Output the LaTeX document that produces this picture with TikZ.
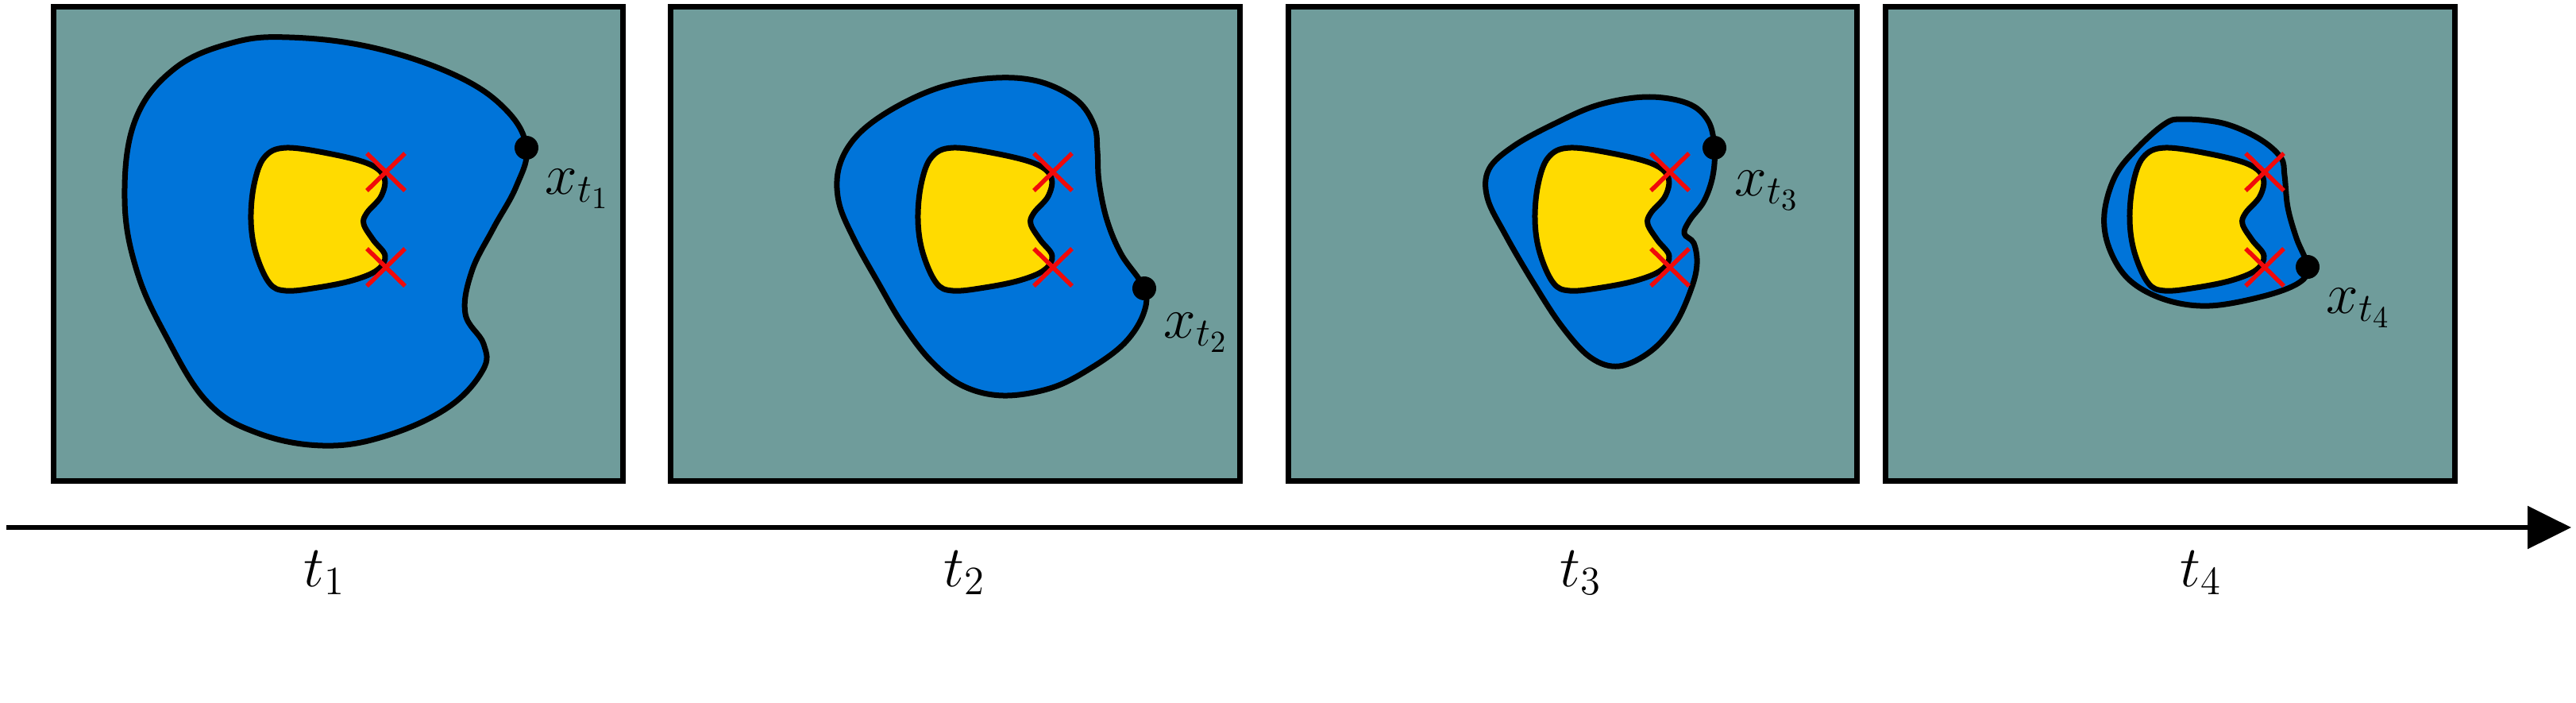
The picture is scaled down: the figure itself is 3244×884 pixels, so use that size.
\documentclass[tikz,border=0pt]{standalone}
\usetikzlibrary{arrows.meta}
\definecolor{bg}{RGB}{111,156,155}
\definecolor{blob}{RGB}{0,116,217}
\definecolor{core}{RGB}{255,219,0}
\definecolor{cross}{RGB}{240,10,10}
\tikzset{
  panel/.style={draw=black, line width=0.7mm, fill=bg},
  outer/.style={draw=black, line width=0.7mm, fill=blob, line join=round},
  inner/.style={draw=black, line width=0.7mm, fill=core, line join=round},
  crossline/.style={draw=cross, line width=0.55mm},
  ptdot/.style={circle, fill=black, inner sep=0pt, minimum size=3mm},
  lbl/.style={font=\fontsize{22}{26}\selectfont, inner sep=0pt},
  timeaxis/.style={line width=0.6mm, -{Triangle[length=5.5mm,width=5.3mm]}},
}
\newcommand{\coreshape}{%
  \draw[inner] plot[smooth cycle, tension=0.6] coordinates {(360,186) (418,194) (466,207) (484,224) (480,247) (462,268) (458,282) (470,302) (485,322) (475,340) (444,353) (400,362) (360,366) (339,356) (322,318) (316,277) (320,232) (333,198)};
  \draw[crossline] (462,193) -- (510,240) (462,240) -- (510,193);
  \draw[crossline] (462,313) -- (510,360) (462,360) -- (510,313);
}
\begin{document}
\begin{tikzpicture}[x=0.1mm, y=-0.1mm]
\useasboundingbox (0,0) rectangle (3244,884);
\fill[white] (0,0) rectangle (3244,884);
% panels
\draw[panel] (67,8) rectangle (784,605);
\draw[panel] (844,8) rectangle (1561,605);
\draw[panel] (1622,8) rectangle (2338,605);
\draw[panel] (2374,8) rectangle (3091,605);
% panel 1
\draw[outer] plot[smooth cycle, tension=0.65] coordinates {(365,47) (470,60) (574,95) (637,138) (663,186) (650,235) (621,288) (594,342) (586,395) (609,433) (608,466) (564,513) (485,549) (407,561) (324,545) (261,506) (209,423) (172,340) (157,250) (170,152) (219,87) (292,54)};
\coreshape
\node[ptdot] (d1) at (663,186) {};
\node[lbl, anchor=base west] (x1) at (686,244) {$x_{t_1}$};
% panel 2
\draw[outer] plot[smooth cycle, tension=0.6] coordinates {(1254,98) (1310,103) (1356,126) (1378,158) (1382,190) (1384,229) (1394,277) (1412,320) (1441,363) (1440,395) (1417,431) (1376,462) (1325,488) (1264,498) (1213,486) (1172,454) (1136,407) (1106,356) (1075,300) (1056,253) (1057,209) (1080,170) (1126,136) (1187,109)};
\begin{scope}[shift={(840,0)}]\coreshape\end{scope}
\node[ptdot] (d2) at (1441,363) {};
\node[lbl, anchor=base west] (x2) at (1465,425) {$x_{t_2}$};
% panel 3
\draw[outer] plot[smooth cycle, tension=0.6] coordinates {(2074,122) (2125,130) (2151,152) (2159,186) (2157,221) (2146,253) (2128,277) (2121,294) (2133,306) (2137,332) (2130,363) (2110,407) (2079,442) (2039,461) (2003,450) (1967,411) (1931,356) (1896,296) (1873,249) (1875,213) (1906,184) (1957,156) (2013,132)};
\begin{scope}[shift={(1617,0)}]\coreshape\end{scope}
\node[ptdot] (d3) at (2159,186) {};
\node[lbl, anchor=base west] (x3) at (2184,246) {$x_{t_3}$};
% panel 4
\draw[outer] plot[smooth cycle, tension=0.6] coordinates {(2748,150) (2799,155) (2844,174) (2872,198) (2877,221) (2881,261) (2892,300) (2906,336) (2895,356) (2850,373) (2782,385) (2726,377) (2681,352) (2656,312) (2650,269) (2664,221) (2692,186) (2726,156)};
\begin{scope}[shift={(2366,0)}]\coreshape\end{scope}
\node[ptdot] (d4) at (2906,336) {};
\node[lbl, anchor=base west] (x4) at (2929,394) {$x_{t_4}$};
% time axis
\coordinate (a0) at (8,664);
\coordinate (a1) at (3238,664);
\draw[timeaxis] (a0) -- (a1);
\node[lbl, anchor=base] (t1) at (409,738) {$t_1$};
\node[lbl, anchor=base] (t2) at (1215,738) {$t_2$};
\node[lbl, anchor=base] (t3) at (1991,738) {$t_3$};
\node[lbl, anchor=base] (t4) at (2772,738) {$t_4$};
\end{tikzpicture}
\end{document}
